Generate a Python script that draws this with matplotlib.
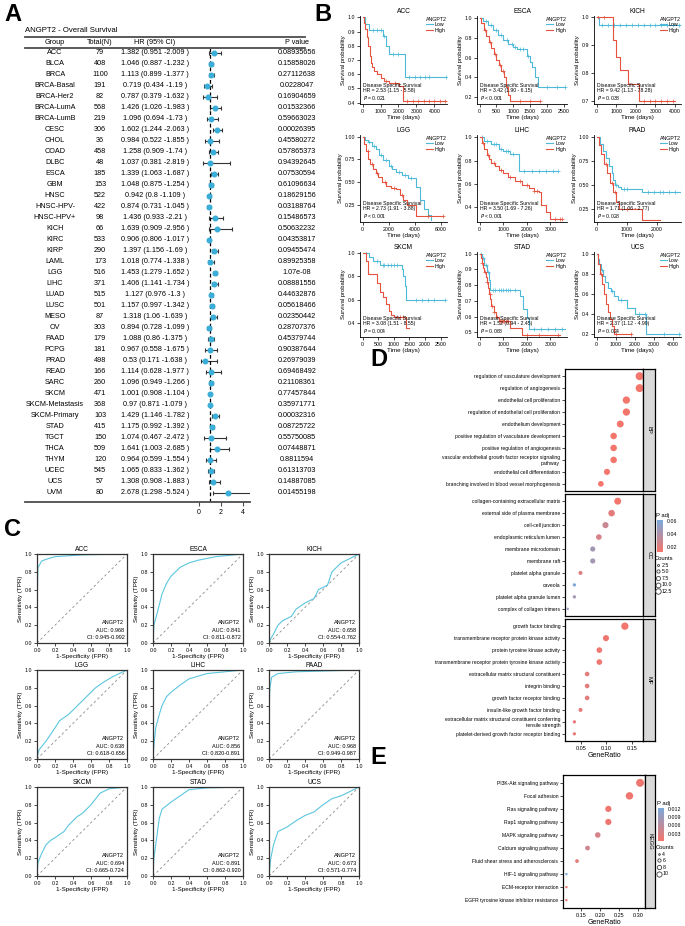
import numpy as np
import matplotlib
matplotlib.use("Agg")
import matplotlib.pyplot as plt
import matplotlib.transforms as mtrans
from matplotlib.lines import Line2D
from matplotlib.colors import LinearSegmentedColormap

plt.rcParams['font.family'] = ['Liberation Sans', 'DejaVu Sans']

# ---------------- panel A: forest table ----------------
groups = ["ACC", "BLCA", "BRCA", "BRCA-Basal", "BRCA-Her2", "BRCA-LumA", "BRCA-LumB", "CESC",
          "CHOL", "COAD", "DLBC", "ESCA", "GBM", "HNSC", "HNSC-HPV-", "HNSC-HPV+", "KICH", "KIRC",
          "KIRP", "LAML", "LGG", "LIHC", "LUAD", "LUSC", "MESO", "OV", "PAAD", "PCPG", "PRAD", "READ",
          "SARC", "SKCM", "SKCM-Metastasis", "SKCM-Primary", "STAD", "TGCT", "THCA", "THYM", "UCEC",
          "UCS", "UVM"]
total_n = [79, 408, 1100, 191, 82, 568, 219, 306, 36, 458, 48, 185, 153, 522, 422, 98, 66, 533,
           290, 173, 516, 371, 515, 501, 87, 303, 179, 181, 498, 166, 260, 471, 368, 103, 415, 150,
           509, 120, 545, 57, 80]
hr = [1.382, 1.046, 1.113, 0.719, 0.787, 1.426, 1.096, 1.602, 0.984, 1.258, 1.037, 1.339, 1.048,
      0.942, 0.874, 1.436, 1.639, 0.906, 1.397, 1.018, 1.453, 1.406, 1.127, 1.157, 1.318, 0.894,
      1.088, 0.967, 0.53, 1.114, 1.096, 1.001, 0.97, 1.429, 1.175, 1.074, 1.641, 0.964, 1.065,
      1.308, 2.678]
hr_lo = [0.951, 0.887, 0.899, 0.434, 0.379, 1.026, 0.694, 1.244, 0.522, 0.909, 0.381, 1.063, 0.875,
         0.8, 0.731, 0.933, 0.909, 0.806, 1.156, 0.774, 1.279, 1.141, 0.976, 0.997, 1.06, 0.728,
         0.86, 0.558, 0.171, 0.628, 0.949, 0.908, 0.871, 1.146, 0.992, 0.467, 1.003, 0.599, 0.833,
         0.908, 1.298]
hr_hi = [2.009, 1.232, 1.377, 1.19, 1.632, 1.983, 1.73, 2.063, 1.855, 1.74, 2.819, 1.687, 1.254,
         1.109, 1.045, 2.21, 2.956, 1.017, 1.69, 1.338, 1.652, 1.734, 1.3, 1.342, 1.639, 1.099,
         1.375, 1.675, 1.638, 1.977, 1.266, 1.104, 1.079, 1.782, 1.392, 2.472, 2.685, 1.554, 1.362,
         1.883, 5.524]
pvals = ["0.08935656", "0.15858026", "0.27112638", "0.0228047", "0.16904659", "0.01532366",
         "0.59663023", "0.00026395", "0.45580272", "0.57865373", "0.94392645", "0.07530594",
         "0.61096634", "0.18629156", "0.03188764", "0.15486573", "0.50632232", "0.04353817",
         "0.09455474", "0.89925358", "1.07e-08", "0.08881556", "0.44632876", "0.05618466",
         "0.02350442", "0.28707376", "0.45379744", "0.90387644", "0.26979039", "0.69468492",
         "0.21108361", "0.77457844", "0.35971771", "0.00032316", "0.08725722", "0.55750085",
         "0.07448871", "0.8811594", "0.61313703", "0.14887085", "0.01455198"]

# ---------------- panel B: Kaplan-Meier ----------------
km_names = ["ACC", "ESCA", "KICH", "LGG", "LIHC", "PAAD", "SKCM", "STAD", "UCS"]
km_xmax = [4700, 2600, 4300, 6500, 3700, 2800, 2700, 3700, 4400]
km_xticks = [[0, 1000, 2000, 3000, 4000], [0, 500, 1000, 1500, 2000, 2500], [0, 1000, 2000, 3000, 4000],
             [0, 2000, 4000, 6000], [0, 1000, 2000, 3000], [0, 1000, 2000],
             [0, 500, 1000, 1500, 2000, 2500], [0, 1000, 2000, 3000], [0, 1000, 2000, 3000, 4000]]
km_ylim = [(0.39, 1.01), (0.13, 1.02), (0.69, 1.005), (0.06, 1.02), (0.27, 1.02), (0.11, 1.02),
           (0.28, 1.01), (0.47, 1.01), (0.17, 1.02)]
km_yticks = [[0.4, 0.5, 0.6, 0.7, 0.8, 0.9, 1.0], [0.2, 0.4, 0.6, 0.8, 1.0], [0.7, 0.8, 0.9, 1.0],
             [0.25, 0.5, 0.75, 1.0], [0.4, 0.6, 0.8, 1.0], [0.25, 0.5, 0.75, 1.0],
             [0.4, 0.6, 0.8, 1.0], [0.5, 0.6, 0.7, 0.8, 0.9, 1.0], [0.2, 0.4, 0.6, 0.8, 1.0]]
km_ytick_fmt = ["{:.1f}", "{:.1f}", "{:.1f}", "{:.2f}", "{:.1f}", "{:.2f}", "{:.1f}", "{:.1f}", "{:.1f}"]
km_low_t = [[0, 150, 350, 1150, 1300, 1500, 2350, 4650],
            [0, 100, 250, 400, 550, 700, 850, 1000, 1100, 1400, 1500, 1550, 1650, 1750, 2550],
            [0, 120, 4300],
            [0, 200, 400, 700, 1000, 1300, 1600, 2000, 2300, 2600, 3000, 3500, 3900, 4100, 4400, 4700, 5000, 5300],
            [0, 200, 500, 800, 1000, 1300, 1650, 3300],
            [0, 100, 200, 300, 400, 500, 550, 600, 700, 800, 1200, 1500, 2800],
            [0, 200, 350, 550, 1250, 1300, 1350, 1400, 2650],
            [0, 100, 200, 300, 400, 450, 1700, 1850, 2000, 2100, 3600],
            [0, 80, 150, 250, 350, 450, 600, 750, 900, 1100, 1600, 2000, 2600, 4400]]
km_low_s = [[1.0, 0.955, 0.91, 0.87, 0.80, 0.74, 0.58, 0.58],
            [1.0, 0.97, 0.93, 0.88, 0.83, 0.78, 0.74, 0.71, 0.69, 0.62, 0.55, 0.50, 0.40, 0.30, 0.30],
            [1.0, 0.972, 0.972],
            [1.0, 0.97, 0.94, 0.90, 0.86, 0.80, 0.74, 0.68, 0.64, 0.61, 0.58, 0.55, 0.54, 0.45, 0.30, 0.20, 0.14, 0.08],
            [1.0, 0.97, 0.94, 0.90, 0.88, 0.86, 0.71, 0.71],
            [1.0, 0.93, 0.85, 0.78, 0.70, 0.62, 0.55, 0.50, 0.48, 0.46, 0.45, 0.42, 0.42],
            [1.0, 0.97, 0.93, 0.90, 0.86, 0.80, 0.72, 0.60, 0.60],
            [1.0, 0.97, 0.93, 0.88, 0.83, 0.77, 0.73, 0.65, 0.59, 0.52, 0.52],
            [1.0, 0.95, 0.90, 0.84, 0.78, 0.72, 0.66, 0.63, 0.58, 0.54, 0.46, 0.40, 0.20, 0.20]]
km_low_c = [[600, 800, 1000, 1200, 1700, 2000, 2600, 2900, 3200, 3500, 3700, 4650],
            [200, 350, 500, 650, 800, 950, 1050, 1200, 1300, 1450, 2000, 2300, 2550],
            [300, 600, 900, 1200, 1500, 1800, 2100, 2400, 2700, 3000, 3300, 3600, 3900, 4200],
            [500, 900, 1400, 1800, 2200, 2800, 3300, 3700],
            [100, 300, 600, 700, 900, 1100, 1200, 1400, 1900, 2200, 2500, 2800, 3100, 3300],
            [650, 900, 1000, 1700, 1900, 2100, 2200, 2400, 2600],
            [100, 450, 650, 700, 800, 900, 1000, 1100, 1700, 1900, 2100, 2300, 2650],
            [50, 150, 250, 350, 550, 650, 800, 900, 1000, 1100, 1200, 1300, 1500, 2300, 2600, 2900, 3200, 3500],
            [300, 800, 1300, 2200, 2500, 3500, 4300]]
km_high_t = [[0, 80, 150, 250, 320, 400, 450, 550, 650, 800, 1000, 1200, 1500, 2050, 2250, 4650],
             [0, 50, 120, 200, 280, 350, 420, 500, 580, 650, 720, 780, 830, 900, 1800],
             [0, 850, 1000, 1200, 1600, 2150, 4000],
             [0, 150, 300, 450, 600, 800, 1000, 1200, 1500, 1800, 2200, 2600, 2900, 3100, 3400, 4100, 6200],
             [0, 100, 200, 300, 400, 500, 650, 800, 1000, 1200, 1500, 1800, 2100, 2300, 2500, 2600, 2800, 3000, 3500],
             [0, 80, 150, 250, 350, 450, 550, 650, 750, 1500, 2100],
             [0, 100, 180, 450, 550, 650, 750, 850, 920, 1000, 1400, 1480],
             [0, 50, 100, 150, 200, 250, 300, 350, 400, 450, 500, 600, 700, 800, 1300, 1800, 3400],
             [0, 100, 200, 300, 400, 500, 600, 700, 800, 900, 1800]]
km_high_s = [[1.0, 0.96, 0.92, 0.86, 0.80, 0.73, 0.68, 0.65, 0.62, 0.60, 0.57, 0.55, 0.54, 0.52, 0.41, 0.41],
             [1.0, 0.95, 0.88, 0.82, 0.76, 0.70, 0.64, 0.58, 0.52, 0.46, 0.40, 0.30, 0.22, 0.16, 0.16],
             [1.0, 0.92, 0.86, 0.81, 0.76, 0.70, 0.70],
             [1.0, 0.92, 0.84, 0.76, 0.70, 0.64, 0.60, 0.56, 0.50, 0.46, 0.44, 0.42, 0.36, 0.30, 0.25, 0.13, 0.13],
             [1.0, 0.95, 0.90, 0.85, 0.81, 0.78, 0.75, 0.72, 0.69, 0.66, 0.62, 0.59, 0.56, 0.54, 0.53, 0.42, 0.36, 0.30, 0.30],
             [1.0, 0.92, 0.82, 0.72, 0.62, 0.52, 0.42, 0.32, 0.25, 0.13, 0.13],
             [1.0, 0.93, 0.82, 0.74, 0.67, 0.62, 0.56, 0.50, 0.47, 0.45, 0.36, 0.36],
             [1.0, 0.97, 0.94, 0.91, 0.88, 0.85, 0.82, 0.78, 0.74, 0.71, 0.67, 0.63, 0.60, 0.57, 0.53, 0.48, 0.48],
             [1.0, 0.90, 0.80, 0.70, 0.60, 0.50, 0.42, 0.35, 0.28, 0.20, 0.20]]
km_high_c = [[1300, 1800, 2500, 2800, 3100, 3400, 3700, 4000, 4300, 4600],
             [150, 300, 450, 600, 700, 1200, 1500, 1800],
             [100, 400, 2400, 2700, 3000, 3300, 3600, 3900],
             [400, 700, 1100, 1700, 2400, 3000, 5000, 6200],
             [150, 350, 600, 900, 1300, 1700, 2000, 2300, 2450, 3200, 3400, 3500],
             [300, 500, 600, 1000],
             [1100, 1200, 1300],
             [120, 220, 320, 420, 520, 620, 720, 850, 900, 950, 1000, 1050, 1100, 1150, 1200, 2000, 2500, 3300],
             [250, 1000, 1800]]
km_hr = ["HR = 2.53 (1.15 - 5.58)", "HR = 3.42 (1.90 - 6.15)", "HR = 9.42 (1.13 - 78.28)",
         "HR = 2.73 (1.91 - 3.88)", "HR = 3.50 (1.69 - 7.26)", "HR = 1.71 (1.06 - 2.77)",
         "HR = 3.08 (1.51 - 8.55)", "HR = 1.52 (0.94 - 2.45)", "HR = 2.37 (1.12 - 4.99)"]
km_p = ["= 0.021", "< 0.001", "= 0.038", "< 0.001", "< 0.001", "= 0.028", "= 0.004", "= 0.088", "= 0.024"]

# ---------------- panel C: ROC ----------------
roc_names = ["ACC", "ESCA", "KICH", "LGG", "LIHC", "PAAD", "SKCM", "STAD", "UCS"]
roc_auc = ["0.968", "0.841", "0.658", "0.638", "0.856", "0.968", "0.694", "0.891", "0.673"]
roc_ci = ["0.945-0.992", "0.811-0.872", "0.554-0.762", "0.618-0.656", "0.820-0.891",
          "0.949-0.987", "0.665-0.724", "0.862-0.920", "0.571-0.774"]
roc_fpr = [[0, 0, 0.005, 0.01, 0.03, 0.05, 0.1, 0.2, 0.5, 1],
           [0, 0.01, 0.05, 0.1, 0.15, 0.2, 0.3, 0.4, 0.5, 0.7, 1],
           [0, 0.02, 0.05, 0.1, 0.15, 0.25, 0.3, 0.4, 0.5, 0.55, 0.65, 0.7, 0.75, 0.8, 0.9, 1],
           [0, 0.02, 0.1, 0.2, 0.25, 0.35, 0.45, 0.55, 0.65, 0.75, 0.85, 1],
           [0, 0.01, 0.03, 0.07, 0.1, 0.15, 0.2, 0.3, 0.4, 0.6, 1],
           [0, 0, 0.01, 0.03, 0.1, 0.3, 1],
           [0, 0.01, 0.05, 0.1, 0.15, 0.2, 0.3, 0.35, 0.45, 0.5, 0.6, 0.7, 0.8, 1],
           [0, 0.01, 0.03, 0.05, 0.07, 0.1, 0.2, 0.3, 0.4, 0.6, 1],
           [0, 0.02, 0.05, 0.1, 0.2, 0.3, 0.4, 0.5, 0.6, 0.7, 0.8, 0.9, 1]]
roc_tpr = [[0, 0.3, 0.6, 0.85, 0.88, 0.92, 0.94, 0.97, 0.99, 1],
           [0, 0.2, 0.35, 0.55, 0.67, 0.75, 0.85, 0.9, 0.93, 0.97, 1],
           [0, 0.05, 0.1, 0.2, 0.25, 0.3, 0.38, 0.45, 0.5, 0.6, 0.65, 0.8, 0.85, 0.9, 0.95, 1],
           [0, 0.1, 0.2, 0.35, 0.43, 0.5, 0.6, 0.7, 0.8, 0.87, 0.93, 1],
           [0, 0.15, 0.35, 0.5, 0.6, 0.7, 0.75, 0.83, 0.9, 0.96, 1],
           [0, 0.5, 0.8, 0.92, 0.96, 0.98, 1],
           [0, 0.15, 0.25, 0.35, 0.4, 0.43, 0.5, 0.57, 0.67, 0.7, 0.8, 0.93, 0.98, 1],
           [0, 0.2, 0.35, 0.5, 0.65, 0.75, 0.83, 0.9, 0.97, 0.99, 1],
           [0, 0.2, 0.35, 0.5, 0.55, 0.62, 0.68, 0.72, 0.8, 0.87, 0.9, 0.95, 1]]

# ---------------- panel D: GO enrichment ----------------
bp_terms = ["regulation of vasculature development", "regulation of angiogenesis",
            "endothelial cell proliferation", "regulation of endothelial cell proliferation",
            "endothelium development", "positive regulation of vasculature development",
            "positive regulation of angiogenesis",
            "vascular endothelial growth factor receptor signaling\npathway",
            "endothelial cell differentiation", "branching involved in blood vessel morphogenesis"]
bp_ratio = [0.165, 0.165, 0.139, 0.139, 0.127, 0.114, 0.114, 0.114, 0.101, 0.089]
bp_count = [13, 13, 11, 11, 10, 9, 9, 9, 8, 7]
bp_padj = [0.013, 0.013, 0.013, 0.013, 0.013, 0.013, 0.013, 0.013, 0.013, 0.013]
cc_terms = ["collagen-containing extracellular matrix", "external side of plasma membrane",
            "cell-cell junction", "endoplasmic reticulum lumen", "membrane microdomain",
            "membrane raft", "platelet alpha granule", "caveola", "platelet alpha granule lumen",
            "complex of collagen trimers"]
cc_ratio = [0.122, 0.110, 0.098, 0.085, 0.073, 0.073, 0.049, 0.037, 0.037, 0.024]
cc_count = [10, 9, 8, 7, 6, 6, 4, 3, 3, 2]
cc_padj = [0.013, 0.02, 0.03, 0.025, 0.045, 0.045, 0.022, 0.06, 0.045, 0.052]
mf_terms = ["growth factor binding", "transmembrane receptor protein kinase activity",
            "protein tyrosine kinase activity", "transmembrane receptor protein tyrosine kinase activity",
            "extracellular matrix structural constituent", "integrin binding",
            "growth factor receptor binding", "insulin-like growth factor binding",
            "extracellular matrix structural constituent conferring\ntensile strength",
            "platelet-derived growth factor receptor binding"]
mf_ratio = [0.136, 0.099, 0.086, 0.086, 0.062, 0.062, 0.062, 0.049, 0.037, 0.037]
mf_count = [11, 8, 7, 7, 5, 5, 5, 4, 3, 3]
mf_padj = [0.013, 0.014, 0.015, 0.015, 0.02, 0.02, 0.02, 0.018, 0.019, 0.019]

# ---------------- panel E: KEGG ----------------
kegg_terms = ["PI3K-Akt signaling pathway", "Focal adhesion", "Ras signaling pathway",
              "Rap1 signaling pathway", "MAPK signaling pathway", "Calcium signaling pathway",
              "Fluid shear stress and atherosclerosis", "HIF-1 signaling pathway",
              "ECM-receptor interaction", "EGFR tyrosine kinase inhibitor resistance"]
kegg_ratio = [0.306, 0.278, 0.222, 0.222, 0.194, 0.167, 0.139, 0.111, 0.111, 0.111]
kegg_count = [11, 10, 8, 8, 7, 6, 5, 4, 4, 4]
kegg_padj = [0.0008, 0.0008, 0.001, 0.001, 0.0035, 0.004, 0.002, 0.0122, 0.0015, 0.0015]

# ================= drawing =================
W, H = 685, 926
fig = plt.figure(figsize=(W / 100, H / 100), dpi=100)


def box(x0, y0, x1, y1):
    return [x0 / W, 1 - y1 / H, (x1 - x0) / W, (y1 - y0) / H]


def ftext(x, y, s, **kw):
    fig.text(x / W, 1 - y / H, s, **kw)


def hline(x0, x1, y, lw=1.0, color='0.3'):
    fig.add_artist(Line2D([x0 / W, x1 / W], [1 - y / H, 1 - y / H], lw=lw, color=color))


for lab, x, y in [("A", 4, 3), ("B", 314, 3), ("C", 4, 518), ("D", 370, 348), ("E", 370, 746)]:
    ftext(x, y, lab, fontsize=17, fontweight='bold', va='top')

# ---- A ----
ftext(25, 30, "ANGPT2 - Overall Survival", fontsize=5.6, va='center')
hline(25, 305, 37, lw=1.3)
hline(25, 305, 48, lw=1.3)
for x, s in [(55, 'Group'), (100, 'Total(N)'), (155, 'HR (95% CI)'), (297, 'P value')]:
    ftext(x, 43, s, fontsize=5.2, ha='center', va='center')

axf = fig.add_axes(box(190, 48, 250, 502))
rows = np.arange(len(groups))
hr_a = np.array(hr)
axf.errorbar(hr_a, rows, xerr=[hr_a - np.array(hr_lo), np.array(hr_hi) - hr_a], fmt='none',
             ecolor='#333333', elinewidth=0.8, capsize=1.5, capthick=0.8)
axf.plot(hr_a, rows, 'o', ms=3.3, color='#3aaed8', zorder=3)
axf.axvline(1, color='black', ls=(0, (3, 2)), lw=0.9)
axf.set_xlim(-0.818, 4.636)
axf.set_ylim(40.82, -0.45)
for sp in axf.spines.values():
    sp.set_visible(False)
axf.set_yticks([])
axf.set_xticks([0, 2, 4])
axf.tick_params(axis='x', length=3, width=0.8, labelsize=5, pad=2, color='0.3')
axf.patch.set_alpha(0)
hline(25, 250, 502, lw=1.3)

tr = mtrans.blended_transform_factory(fig.transFigure, axf.transData)
for i in rows:
    axf.text(55 / W, i, groups[i], transform=tr, fontsize=5.2, ha='center', va='center')
    axf.text(100 / W, i, str(total_n[i]), transform=tr, fontsize=5.2, ha='center', va='center')
    axf.text(155 / W, i, f"{hr[i]} ({hr_lo[i]} -{hr_hi[i]} )", transform=tr, fontsize=5.2,
             ha='center', va='center')
    axf.text(297 / W, i, pvals[i], transform=tr, fontsize=5.2, ha='center', va='center')

# ---- B ----
c_low, c_high = '#4dbad9', '#e5533f'
b_cols = [(360, 447), (477, 567), (594, 681)]
b_rows = [(16, 104), (135, 222), (252, 337)]
for k, name in enumerate(km_names):
    x0, x1 = b_cols[k % 3]
    y0, y1 = b_rows[k // 3]
    ax = fig.add_axes(box(x0, y0, x1, y1))
    for t, s, c, col in [(km_low_t[k], km_low_s[k], km_low_c[k], c_low),
                         (km_high_t[k], km_high_s[k], km_high_c[k], c_high)]:
        t = np.array(t)
        s = np.array(s)
        ax.step(t, s, where='post', color=col, lw=0.8)
        idx = np.searchsorted(t, c, side='right') - 1
        ax.plot(c, s[idx], '+', color=col, ms=2.5, mew=0.5)
    ax.set_xlim(-km_xmax[k] * 0.03, km_xmax[k])
    ax.set_ylim(*km_ylim[k])
    ax.set_xticks(km_xticks[k])
    ax.set_yticks(km_yticks[k])
    ax.set_yticklabels([km_ytick_fmt[k].format(v) for v in km_yticks[k]])
    ax.tick_params(labelsize=3.8, length=2, width=0.5, pad=1.5)
    for sp in ['top', 'right']:
        ax.spines[sp].set_visible(False)
    for sp in ['left', 'bottom']:
        ax.spines[sp].set_linewidth(0.6)
    ax.set_title(name, fontsize=4.8, pad=2.5)
    ax.set_xlabel("Time (days)", fontsize=4.5, labelpad=1)
    ax.set_ylabel("Survival probability", fontsize=4.2, labelpad=1.5)
    ax.text(0.03, 0.02, f"Disease Specific Survival\n{km_hr[k]}\n$P$ {km_p[k]}", transform=ax.transAxes,
            fontsize=3.7, va='bottom', ha='left', linespacing=1.15)
    hd = [Line2D([], [], color=c_low, lw=0.8), Line2D([], [], color=c_high, lw=0.8)]
    ax.legend(hd, ['Low', 'High'], title='ANGPT2', loc='upper right', bbox_to_anchor=(1.03, 1.03),
              fontsize=3.8, title_fontsize=3.8, frameon=False, handlelength=1.3,
              labelspacing=0.1, borderpad=0.1, handletextpad=0.4)

# ---- C ----
c_roc = '#5cc6df'
c_cols = [(37, 127), (153, 243), (269, 359)]
c_rows = [(554, 643), (670, 759), (787, 876)]
for k, name in enumerate(roc_names):
    x0, x1 = c_cols[k % 3]
    y0, y1 = c_rows[k // 3]
    ax = fig.add_axes(box(x0, y0, x1, y1))
    ax.plot([0, 1], [0, 1], ls=(0, (3, 3)), color='0.55', lw=0.6)
    ax.plot(roc_fpr[k], roc_tpr[k], color=c_roc, lw=0.8)
    ax.set_xlim(0, 1)
    ax.set_ylim(0, 1)
    ticks = [0, 0.2, 0.4, 0.6, 0.8, 1.0]
    ax.set_xticks(ticks)
    ax.set_yticks(ticks)
    ax.set_xticklabels([f"{v:.1f}" for v in ticks])
    ax.set_yticklabels([f"{v:.1f}" for v in ticks])
    ax.tick_params(labelsize=3.8, length=2, width=0.5, pad=1.5)
    for sp in ax.spines.values():
        sp.set_linewidth(0.9)
        sp.set_color('0.2')
    ax.set_title(name, fontsize=4.8, pad=2.5)
    ax.set_xlabel("1-Specificity (FPR)", fontsize=4.5, labelpad=1)
    ax.set_ylabel("Sensitivity (TPR)", fontsize=4.5, labelpad=1.5)
    ax.text(0.97, 0.03, f"ANGPT2\nAUC: {roc_auc[k]}\nCI: {roc_ci[k]}", transform=ax.transAxes,
            fontsize=4, ha='right', va='bottom', linespacing=1.7)

# ---- D / E dot plots ----
cmap = LinearSegmentedColormap.from_list('padj', ['#f5756b', '#7aa8da'])


def size_of(c, cmin, cmax):
    return 3 + (np.array(c, float) - cmin) / (cmax - cmin) * 30


def dotpanel(bx, terms, ratio, count, padj, xlim, strip, strip_bx, cmin, cmax, vmin, vmax, xticks=None):
    ax = fig.add_axes(box(*bx))
    y = np.arange(len(terms))
    sc = ax.scatter(ratio, y, s=size_of(count, cmin, cmax), c=padj, cmap=cmap, vmin=vmin, vmax=vmax,
                    edgecolors='none', zorder=3)
    ax.set_ylim(len(terms) - 0.4, -0.6)
    ax.set_xlim(*xlim)
    ax.set_yticks(y)
    ax.set_yticklabels(terms, fontsize=3.6)
    ax.tick_params(axis='y', length=2, width=0.5, pad=1.5)
    if xticks is None:
        ax.set_xticks([])
    else:
        ax.set_xticks(xticks)
        ax.set_xticklabels([f"{v:.2f}" for v in xticks])
        ax.tick_params(axis='x', length=2, width=0.5, labelsize=4, pad=1.5)
        ax.set_xlabel("GeneRatio", fontsize=5, labelpad=1)
    for sp in ax.spines.values():
        sp.set_linewidth(0.9)
    sx = fig.add_axes(box(*strip_bx))
    sx.set_facecolor('#d9d9d9')
    sx.set_xticks([])
    sx.set_yticks([])
    for sp in sx.spines.values():
        sp.set_linewidth(0.9)
    sx.text(0.5, 0.5, strip, rotation=270, ha='center', va='center', fontsize=4.2, transform=sx.transAxes)
    return sc


d_xlim = (0.0186, 0.1716)
dotpanel((565, 369, 643, 491), bp_terms, bp_ratio, bp_count, bp_padj, d_xlim, "BP", (643, 369, 655, 491),
         2, 13, 0.012, 0.062)
sc_d = dotpanel((565, 494, 643, 616), cc_terms, cc_ratio, cc_count, cc_padj, d_xlim, "CC",
                (643, 494, 655, 616), 2, 13, 0.012, 0.062)
dotpanel((565, 619, 643, 741), mf_terms, mf_ratio, mf_count, mf_padj, d_xlim, "MF", (643, 619, 655, 741),
         2, 13, 0.012, 0.062, xticks=[0.05, 0.10, 0.15])

sc_e = dotpanel((563, 775, 645, 908), kegg_terms, kegg_ratio, kegg_count, kegg_padj, (0.102, 0.319), "KEGG",
                (645, 775, 655, 908), 4, 11, 0.0003, 0.0124, xticks=[0.15, 0.20, 0.25, 0.30])


def legends(sc, cb_bx, ticks, tfmt, title_y, count_vals, count_labels, cmin, cmax, counts_y):
    cax = fig.add_axes(box(*cb_bx))
    cb = fig.colorbar(sc, cax=cax)
    cb.set_ticks(ticks)
    cb.set_ticklabels([tfmt.format(v) for v in ticks])
    cb.outline.set_visible(False)
    cax.tick_params(labelsize=3.8, length=1.5, width=0.4, pad=1, color='white')
    ftext(cb_bx[0] - 1, title_y, "P adj", fontsize=4.2, va='center')
    hd = [Line2D([], [], ls='none', marker='o', ms=0.7 * np.sqrt(size_of([v], cmin, cmax)[0]),
                 mfc='white', mec='0.25', mew=0.6) for v in count_vals]
    fig.legend(hd, count_labels, title='Counts', loc='upper left',
               bbox_to_anchor=((cb_bx[0] - 2) / W, 1 - counts_y / H), frameon=False, fontsize=3.8,
               title_fontsize=4.2, handletextpad=0.2, labelspacing=0.3, borderpad=0, borderaxespad=0,
               alignment='left', handlelength=1.0, handleheight=0.6)


legends(sc_d, (657, 520, 663, 552), [0.02, 0.04, 0.06], "{:.2f}", 515,
        [2.5, 5.0, 7.5, 10.0, 12.5], ["2.5", "5.0", "7.5", "10.0", "12.5"], 2, 13, 556)
legends(sc_e, (658, 808, 664, 841), [0.003, 0.006, 0.009, 0.012], "{:.3f}", 804,
        [4, 6, 8, 10], ["4", "6", "8", "10"], 4, 11, 845)

fig.savefig("out.png", dpi=100)
